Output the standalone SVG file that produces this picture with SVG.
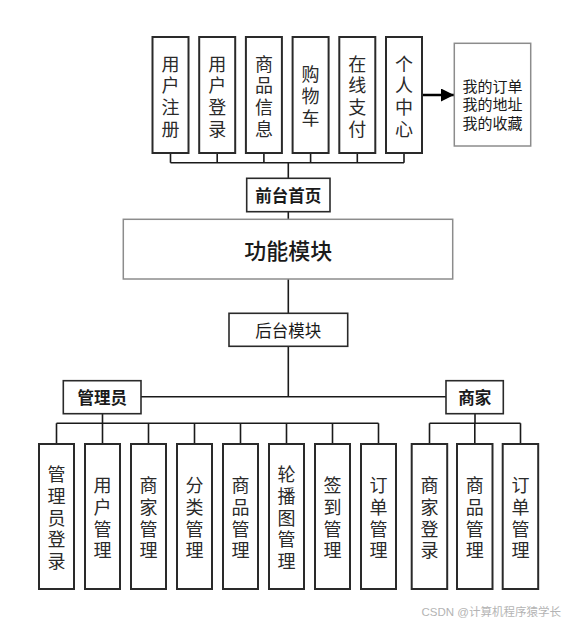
<svg xmlns="http://www.w3.org/2000/svg" width="566" height="620" viewBox="0 0 566 620">
<style>
.bx{fill:#fff;stroke:#2a2a2a;stroke-width:2}
.gb{fill:#fff;stroke:#8c8c8c;stroke-width:1.5}
.mb{fill:#fff;stroke:#2a2a2a;stroke-width:1.6}
.ln{fill:none;stroke:#1a1a1a;stroke-width:1.6}
.vt{font-family:"Noto Sans CJK SC","Noto Sans",sans-serif;font-size:18px;fill:#2a2a2a;text-anchor:middle;dominant-baseline:central}
.ht{font-family:"Noto Sans CJK SC","Noto Sans",sans-serif;fill:#1a1a1a;text-anchor:middle;dominant-baseline:central}
</style>
<defs>
<marker id="ah" viewBox="0 0 10 10" refX="10" refY="5" markerWidth="13" markerHeight="13" markerUnits="userSpaceOnUse" orient="auto">
<path d="M0,0 L10,5 L0,10 Z" fill="#000"/>
</marker>
</defs>
<rect width="566" height="620" fill="#fff"/>
<g id="connectors">
<path class="ln" d="M170.5,153V162.7M217.2,153V162.7M263.9,153V162.7M310.6,153V162.7M357.3,153V162.7M404,153V162.7M170.5,162.7H404M288.3,162.7V178.3"/>
<path class="ln" d="M288.3,211.7V219.3M288.3,279V313.3M288.3,346.3V396.7M141,396.7H446"/>
<path class="ln" d="M102.5,413.7V423.3M56.5,423.3H378.5M56.5,423.3V444M102.5,423.3V444M148.5,423.3V444M194.5,423.3V444M240.5,423.3V444M286.5,423.3V444M332.5,423.3V444M378.5,423.3V444"/>
<path class="ln" d="M475,413.7V423.3M429.5,423.3H520.5M429.5,423.3V444M474.8,423.3V444M520.5,423.3V444"/>
<line x1="421.7" y1="95" x2="454" y2="95" stroke="#000" stroke-width="2.5" marker-end="url(#ah)"/>
</g>
<g id="n-zhuce"><rect class="bx" x="152.5" y="37" width="36" height="116"/><text class="vt"><tspan x="170.5" y="62.5">用</tspan><tspan x="170.5" y="84.2">户</tspan><tspan x="170.5" y="105.8">注</tspan><tspan x="170.5" y="127.5">册</tspan></text></g>
<g id="n-denglu"><rect class="bx" x="199.2" y="37" width="36" height="116"/><text class="vt"><tspan x="217.2" y="62.5">用</tspan><tspan x="217.2" y="84.2">户</tspan><tspan x="217.2" y="105.8">登</tspan><tspan x="217.2" y="127.5">录</tspan></text></g>
<g id="n-shangpin"><rect class="bx" x="245.9" y="37" width="36" height="116"/><text class="vt"><tspan x="263.9" y="62.5">商</tspan><tspan x="263.9" y="84.2">品</tspan><tspan x="263.9" y="105.8">信</tspan><tspan x="263.9" y="127.5">息</tspan></text></g>
<g id="n-gouwuche"><rect class="bx" x="292.6" y="37" width="36" height="116"/><text class="vt"><tspan x="310.6" y="73.3">购</tspan><tspan x="310.6" y="95">物</tspan><tspan x="310.6" y="116.7">车</tspan></text></g>
<g id="n-zhifu"><rect class="bx" x="339.3" y="37" width="36" height="116"/><text class="vt"><tspan x="357.3" y="62.5">在</tspan><tspan x="357.3" y="84.2">线</tspan><tspan x="357.3" y="105.8">支</tspan><tspan x="357.3" y="127.5">付</tspan></text></g>
<g id="n-geren"><rect class="bx" x="386" y="37" width="36" height="116"/><text class="vt"><tspan x="404" y="62.5">个</tspan><tspan x="404" y="84.2">人</tspan><tspan x="404" y="105.8">中</tspan><tspan x="404" y="127.5">心</tspan></text></g>
<g id="n-wode"><rect class="gb" x="454.3" y="43.3" width="76.4" height="102.7"/><text class="ht" font-size="15"><tspan x="492.5" y="85">我的订单</tspan><tspan x="492.5" y="103.3">我的地址</tspan><tspan x="492.5" y="121.7">我的收藏</tspan></text></g>
<g id="n-qiantai"><rect class="mb" x="246.7" y="178.3" width="83.3" height="33.4"/><text class="ht" x="288.3" y="195" font-size="16.5" font-weight="bold">前台首页</text></g>
<g id="n-gongneng"><rect class="gb" x="123.3" y="219.3" width="329.4" height="59.7"/><text class="ht" x="288.3" y="249.3" font-size="22" font-weight="500">功能模块</text></g>
<g id="n-houtai"><rect class="mb" x="229" y="313.3" width="118.7" height="33"/><text class="ht" x="288.3" y="329.5" font-size="16.5">后台模块</text></g>
<g id="n-admin"><rect class="mb" x="63.3" y="380.7" width="77.7" height="33"/><text class="ht" x="102.2" y="397.2" font-size="16.5" font-weight="bold">管理员</text></g>
<g id="n-merchant"><rect class="mb" x="446" y="380.7" width="57.3" height="33"/><text class="ht" x="474.7" y="397.2" font-size="16.5" font-weight="bold">商家</text></g>
<g id="n-a1"><rect class="bx" x="39" y="444" width="35" height="145"/><text class="vt"><tspan x="56.5" y="472.7">管</tspan><tspan x="56.5" y="494.6">理</tspan><tspan x="56.5" y="516.5">员</tspan><tspan x="56.5" y="538.4">登</tspan><tspan x="56.5" y="560.3">录</tspan></text></g>
<g id="n-a2"><rect class="bx" x="85" y="444" width="35" height="145"/><text class="vt"><tspan x="102.5" y="483.6">用</tspan><tspan x="102.5" y="505.5">户</tspan><tspan x="102.5" y="527.5">管</tspan><tspan x="102.5" y="549.4">理</tspan></text></g>
<g id="n-a3"><rect class="bx" x="131" y="444" width="35" height="145"/><text class="vt"><tspan x="148.5" y="483.6">商</tspan><tspan x="148.5" y="505.5">家</tspan><tspan x="148.5" y="527.5">管</tspan><tspan x="148.5" y="549.4">理</tspan></text></g>
<g id="n-a4"><rect class="bx" x="177" y="444" width="35" height="145"/><text class="vt"><tspan x="194.5" y="483.6">分</tspan><tspan x="194.5" y="505.5">类</tspan><tspan x="194.5" y="527.5">管</tspan><tspan x="194.5" y="549.4">理</tspan></text></g>
<g id="n-a5"><rect class="bx" x="223" y="444" width="35" height="145"/><text class="vt"><tspan x="240.5" y="483.6">商</tspan><tspan x="240.5" y="505.5">品</tspan><tspan x="240.5" y="527.5">管</tspan><tspan x="240.5" y="549.4">理</tspan></text></g>
<g id="n-a6"><rect class="bx" x="269" y="444" width="35" height="145"/><text class="vt"><tspan x="286.5" y="472.7">轮</tspan><tspan x="286.5" y="494.6">播</tspan><tspan x="286.5" y="516.5">图</tspan><tspan x="286.5" y="538.4">管</tspan><tspan x="286.5" y="560.3">理</tspan></text></g>
<g id="n-a7"><rect class="bx" x="315" y="444" width="35" height="145"/><text class="vt"><tspan x="332.5" y="483.6">签</tspan><tspan x="332.5" y="505.5">到</tspan><tspan x="332.5" y="527.5">管</tspan><tspan x="332.5" y="549.4">理</tspan></text></g>
<g id="n-a8"><rect class="bx" x="361" y="444" width="35" height="145"/><text class="vt"><tspan x="378.5" y="483.6">订</tspan><tspan x="378.5" y="505.5">单</tspan><tspan x="378.5" y="527.5">管</tspan><tspan x="378.5" y="549.4">理</tspan></text></g>
<g id="n-m1"><rect class="bx" x="411.7" y="444" width="35.5" height="145"/><text class="vt"><tspan x="429.5" y="483.6">商</tspan><tspan x="429.5" y="505.5">家</tspan><tspan x="429.5" y="527.5">登</tspan><tspan x="429.5" y="549.4">录</tspan></text></g>
<g id="n-m2"><rect class="bx" x="457" y="444" width="35.5" height="145"/><text class="vt"><tspan x="474.8" y="483.6">商</tspan><tspan x="474.8" y="505.5">品</tspan><tspan x="474.8" y="527.5">管</tspan><tspan x="474.8" y="549.4">理</tspan></text></g>
<g id="n-m3"><rect class="bx" x="502.7" y="444" width="35.5" height="145"/><text class="vt"><tspan x="520.5" y="483.6">订</tspan><tspan x="520.5" y="505.5">单</tspan><tspan x="520.5" y="527.5">管</tspan><tspan x="520.5" y="549.4">理</tspan></text></g>
<text x="561" y="611.5" font-family="'Liberation Sans','Noto Sans CJK SC',sans-serif" font-size="11.5" fill="#b4b4b4" text-anchor="end" dominant-baseline="central">CSDN @计算机程序猿学长</text>
</svg>
